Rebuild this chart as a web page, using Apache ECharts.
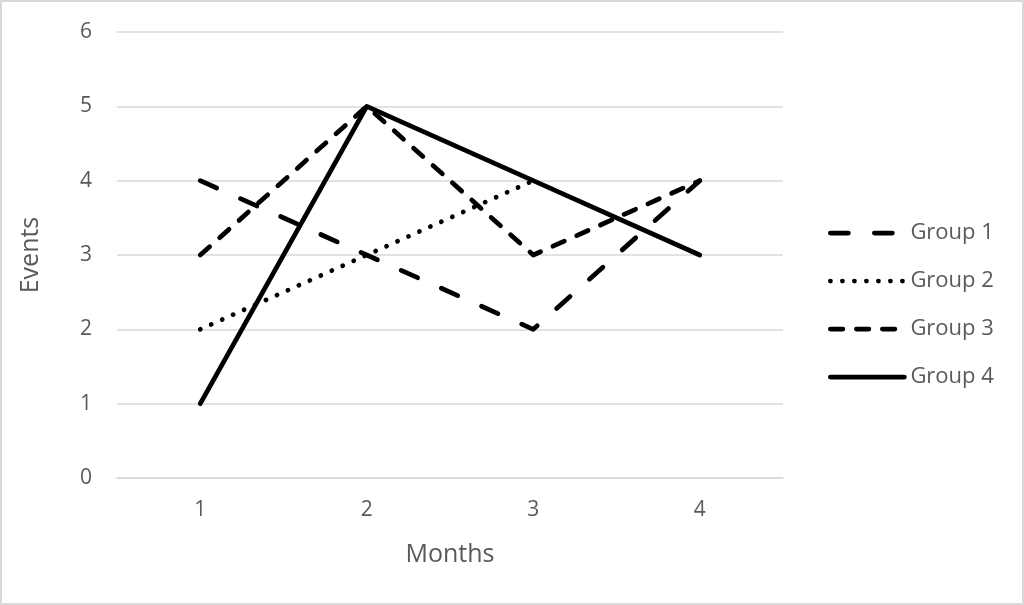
<!DOCTYPE html>
<html>
<head>
<meta charset="utf-8">
<script src="https://cdn.jsdelivr.net/npm/echarts@6/dist/echarts.min.js"></script>
<style>
html,body{margin:0;padding:0;background:#fff;}
#wrap{width:1024px;height:605px;box-sizing:border-box;border:2px solid #d9d9d9;position:relative;}
#c{position:absolute;left:-2px;top:-2px;width:1024px;height:605px;}
</style>
</head>
<body>
<div id="wrap"><div id="c"></div></div>
<script>
var months = ['1', '2', '3', '4'];
var group1 = [4, 3, 2, 4];
var group2 = [2, 3, 4, null];
var group3 = [3, 5, 3, 4];
var group4 = [1, 5, 4, 3];
var seriesNames = ['Group 1', 'Group 2', 'Group 3', 'Group 4'];

var font = '"Open Sans", "Noto Sans", sans-serif';
var txt = '#595959';
var chart = echarts.init(document.getElementById('c'));
function mk(name, data, type) {
  return {
    name: name, type: 'line', data: data, symbol: 'none', smooth: false,
    connectNulls: false,
    lineStyle: { color: '#000', width: 4.75, type: type, cap: 'round', join: 'round' },
    itemStyle: { color: '#000' },
    emphasis: { disabled: true },
    animation: false
  };
}
chart.setOption({
  animation: false,
  grid: { left: 117, right: 241, top: 32, bottom: 127 },
  xAxis: {
    type: 'category', data: months, boundaryGap: true,
    axisLine: { show: true, lineStyle: { color: '#d9d9d9', width: 1.5 } },
    axisTick: { show: false },
    axisLabel: { color: txt, fontSize: 21, fontFamily: font, margin: 22 },
    name: 'Months', nameLocation: 'middle', nameGap: 64,
    nameTextStyle: { color: txt, fontSize: 25, fontFamily: font }
  },
  yAxis: {
    type: 'value', min: 0, max: 6, interval: 1,
    axisLine: { show: false }, axisTick: { show: false },
    splitLine: { lineStyle: { color: '#d9d9d9', width: 1.5 } },
    axisLabel: { color: txt, fontSize: 21, fontFamily: font, margin: 25 },
    name: 'Events', nameLocation: 'middle', nameGap: 74, nameRotate: 90,
    nameTextStyle: { color: txt, fontSize: 25, fontFamily: font }
  },
  legend: {
    orient: 'vertical', left: 823, top: 217,
    itemWidth: 74, itemHeight: 14, itemGap: 26,
    selectedMode: false,
    itemStyle: { opacity: 0 },
    lineStyle: { width: 4.75 },
    textStyle: { color: txt, fontSize: 22, fontFamily: font, padding: [0, 0, 0, 1] },
    data: seriesNames
  },
  series: [
    mk(seriesNames[0], group1, [18, 26]),
    mk(seriesNames[1], group2, [0.1, 11.9]),
    mk(seriesNames[2], group3, [12.5, 13.5]),
    mk(seriesNames[3], group4, 'solid')
  ]
});
</script>
</body>
</html>
